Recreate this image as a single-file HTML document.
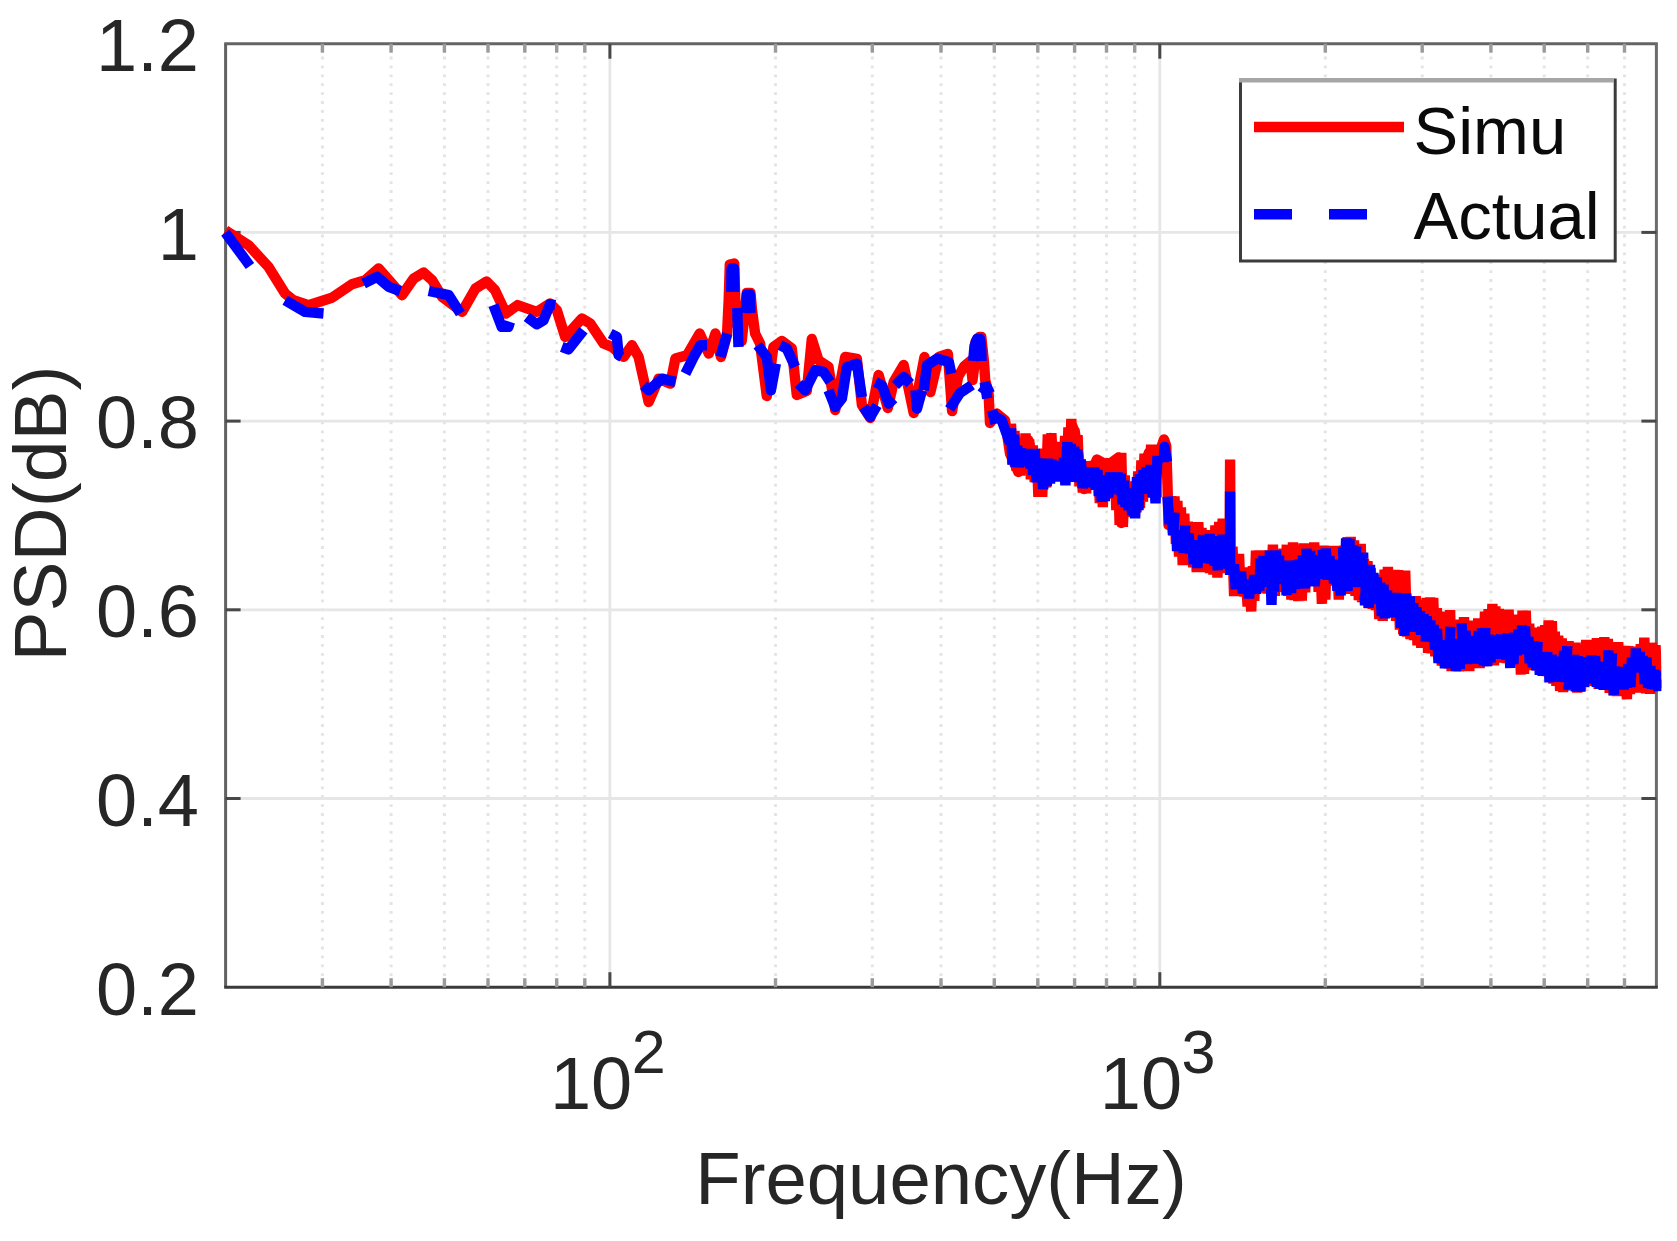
<!DOCTYPE html>
<html lang="en"><head><meta charset="utf-8"><title>PSD plot</title>
<style>html,body{margin:0;padding:0;background:#fff}svg{display:block;filter:blur(0.6px)}text{font-family:"Liberation Sans",Arial,Helvetica,sans-serif;fill:#262626}</style></head><body>
<svg width="1677" height="1241" viewBox="0 0 1677 1241">
<rect x="0" y="0" width="1677" height="1241" fill="#ffffff"/>
<g id="grid" fill="none">
<line x1="322.4" y1="47.7" x2="322.4" y2="987.2" stroke="#e4e4e4" stroke-width="3" stroke-dasharray="2.8 6.1"/>
<line x1="391.1" y1="47.7" x2="391.1" y2="987.2" stroke="#e4e4e4" stroke-width="3" stroke-dasharray="2.8 6.1"/>
<line x1="444.4" y1="47.7" x2="444.4" y2="987.2" stroke="#e4e4e4" stroke-width="3" stroke-dasharray="2.8 6.1"/>
<line x1="488.0" y1="47.7" x2="488.0" y2="987.2" stroke="#e4e4e4" stroke-width="3" stroke-dasharray="2.8 6.1"/>
<line x1="524.8" y1="47.7" x2="524.8" y2="987.2" stroke="#e4e4e4" stroke-width="3" stroke-dasharray="2.8 6.1"/>
<line x1="556.7" y1="47.7" x2="556.7" y2="987.2" stroke="#e4e4e4" stroke-width="3" stroke-dasharray="2.8 6.1"/>
<line x1="584.8" y1="47.7" x2="584.8" y2="987.2" stroke="#e4e4e4" stroke-width="3" stroke-dasharray="2.8 6.1"/>
<line x1="775.5" y1="47.7" x2="775.5" y2="987.2" stroke="#e4e4e4" stroke-width="3" stroke-dasharray="2.8 6.1"/>
<line x1="872.3" y1="47.7" x2="872.3" y2="987.2" stroke="#e4e4e4" stroke-width="3" stroke-dasharray="2.8 6.1"/>
<line x1="941.0" y1="47.7" x2="941.0" y2="987.2" stroke="#e4e4e4" stroke-width="3" stroke-dasharray="2.8 6.1"/>
<line x1="994.3" y1="47.7" x2="994.3" y2="987.2" stroke="#e4e4e4" stroke-width="3" stroke-dasharray="2.8 6.1"/>
<line x1="1037.8" y1="47.7" x2="1037.8" y2="987.2" stroke="#e4e4e4" stroke-width="3" stroke-dasharray="2.8 6.1"/>
<line x1="1074.6" y1="47.7" x2="1074.6" y2="987.2" stroke="#e4e4e4" stroke-width="3" stroke-dasharray="2.8 6.1"/>
<line x1="1106.5" y1="47.7" x2="1106.5" y2="987.2" stroke="#e4e4e4" stroke-width="3" stroke-dasharray="2.8 6.1"/>
<line x1="1134.7" y1="47.7" x2="1134.7" y2="987.2" stroke="#e4e4e4" stroke-width="3" stroke-dasharray="2.8 6.1"/>
<line x1="1325.3" y1="47.7" x2="1325.3" y2="987.2" stroke="#e4e4e4" stroke-width="3" stroke-dasharray="2.8 6.1"/>
<line x1="1422.2" y1="47.7" x2="1422.2" y2="987.2" stroke="#e4e4e4" stroke-width="3" stroke-dasharray="2.8 6.1"/>
<line x1="1490.9" y1="47.7" x2="1490.9" y2="987.2" stroke="#e4e4e4" stroke-width="3" stroke-dasharray="2.8 6.1"/>
<line x1="1544.2" y1="47.7" x2="1544.2" y2="987.2" stroke="#e4e4e4" stroke-width="3" stroke-dasharray="2.8 6.1"/>
<line x1="1587.7" y1="47.7" x2="1587.7" y2="987.2" stroke="#e4e4e4" stroke-width="3" stroke-dasharray="2.8 6.1"/>
<line x1="1624.5" y1="47.7" x2="1624.5" y2="987.2" stroke="#e4e4e4" stroke-width="3" stroke-dasharray="2.8 6.1"/>
<line x1="609.9" y1="43.7" x2="609.9" y2="987.2" stroke="#e6e6e6" stroke-width="2.8"/>
<line x1="1159.8" y1="43.7" x2="1159.8" y2="987.2" stroke="#e6e6e6" stroke-width="2.8"/>
<line x1="225.6" y1="798.5" x2="1656.4" y2="798.5" stroke="#e6e6e6" stroke-width="2.8"/>
<line x1="225.6" y1="609.8" x2="1656.4" y2="609.8" stroke="#e6e6e6" stroke-width="2.8"/>
<line x1="225.6" y1="421.1" x2="1656.4" y2="421.1" stroke="#e6e6e6" stroke-width="2.8"/>
<line x1="225.6" y1="232.4" x2="1656.4" y2="232.4" stroke="#e6e6e6" stroke-width="2.8"/>
</g>
<g id="axes" fill="none">
<line x1="224.2" y1="43.7" x2="1657.8" y2="43.7" stroke="#646464" stroke-width="3"/>
<line x1="1656.4" y1="43.7" x2="1656.4" y2="987.2" stroke="#6c6c6c" stroke-width="3"/>
<line x1="225.6" y1="43.7" x2="225.6" y2="987.2" stroke="#626262" stroke-width="3"/>
<line x1="224.2" y1="987.2" x2="1657.8" y2="987.2" stroke="#3a3a3a" stroke-width="3"/>
<line x1="322.4" y1="987.2" x2="322.4" y2="978.2" stroke="#9a9a9a" stroke-width="3.4"/>
<line x1="322.4" y1="43.7" x2="322.4" y2="52.7" stroke="#9a9a9a" stroke-width="3.4"/>
<line x1="391.1" y1="987.2" x2="391.1" y2="978.2" stroke="#9a9a9a" stroke-width="3.4"/>
<line x1="391.1" y1="43.7" x2="391.1" y2="52.7" stroke="#9a9a9a" stroke-width="3.4"/>
<line x1="444.4" y1="987.2" x2="444.4" y2="978.2" stroke="#9a9a9a" stroke-width="3.4"/>
<line x1="444.4" y1="43.7" x2="444.4" y2="52.7" stroke="#9a9a9a" stroke-width="3.4"/>
<line x1="488.0" y1="987.2" x2="488.0" y2="978.2" stroke="#9a9a9a" stroke-width="3.4"/>
<line x1="488.0" y1="43.7" x2="488.0" y2="52.7" stroke="#9a9a9a" stroke-width="3.4"/>
<line x1="524.8" y1="987.2" x2="524.8" y2="978.2" stroke="#9a9a9a" stroke-width="3.4"/>
<line x1="524.8" y1="43.7" x2="524.8" y2="52.7" stroke="#9a9a9a" stroke-width="3.4"/>
<line x1="556.7" y1="987.2" x2="556.7" y2="978.2" stroke="#9a9a9a" stroke-width="3.4"/>
<line x1="556.7" y1="43.7" x2="556.7" y2="52.7" stroke="#9a9a9a" stroke-width="3.4"/>
<line x1="584.8" y1="987.2" x2="584.8" y2="978.2" stroke="#9a9a9a" stroke-width="3.4"/>
<line x1="584.8" y1="43.7" x2="584.8" y2="52.7" stroke="#9a9a9a" stroke-width="3.4"/>
<line x1="775.5" y1="987.2" x2="775.5" y2="978.2" stroke="#9a9a9a" stroke-width="3.4"/>
<line x1="775.5" y1="43.7" x2="775.5" y2="52.7" stroke="#9a9a9a" stroke-width="3.4"/>
<line x1="872.3" y1="987.2" x2="872.3" y2="978.2" stroke="#9a9a9a" stroke-width="3.4"/>
<line x1="872.3" y1="43.7" x2="872.3" y2="52.7" stroke="#9a9a9a" stroke-width="3.4"/>
<line x1="941.0" y1="987.2" x2="941.0" y2="978.2" stroke="#9a9a9a" stroke-width="3.4"/>
<line x1="941.0" y1="43.7" x2="941.0" y2="52.7" stroke="#9a9a9a" stroke-width="3.4"/>
<line x1="994.3" y1="987.2" x2="994.3" y2="978.2" stroke="#9a9a9a" stroke-width="3.4"/>
<line x1="994.3" y1="43.7" x2="994.3" y2="52.7" stroke="#9a9a9a" stroke-width="3.4"/>
<line x1="1037.8" y1="987.2" x2="1037.8" y2="978.2" stroke="#9a9a9a" stroke-width="3.4"/>
<line x1="1037.8" y1="43.7" x2="1037.8" y2="52.7" stroke="#9a9a9a" stroke-width="3.4"/>
<line x1="1074.6" y1="987.2" x2="1074.6" y2="978.2" stroke="#9a9a9a" stroke-width="3.4"/>
<line x1="1074.6" y1="43.7" x2="1074.6" y2="52.7" stroke="#9a9a9a" stroke-width="3.4"/>
<line x1="1106.5" y1="987.2" x2="1106.5" y2="978.2" stroke="#9a9a9a" stroke-width="3.4"/>
<line x1="1106.5" y1="43.7" x2="1106.5" y2="52.7" stroke="#9a9a9a" stroke-width="3.4"/>
<line x1="1134.7" y1="987.2" x2="1134.7" y2="978.2" stroke="#9a9a9a" stroke-width="3.4"/>
<line x1="1134.7" y1="43.7" x2="1134.7" y2="52.7" stroke="#9a9a9a" stroke-width="3.4"/>
<line x1="1325.3" y1="987.2" x2="1325.3" y2="978.2" stroke="#9a9a9a" stroke-width="3.4"/>
<line x1="1325.3" y1="43.7" x2="1325.3" y2="52.7" stroke="#9a9a9a" stroke-width="3.4"/>
<line x1="1422.2" y1="987.2" x2="1422.2" y2="978.2" stroke="#9a9a9a" stroke-width="3.4"/>
<line x1="1422.2" y1="43.7" x2="1422.2" y2="52.7" stroke="#9a9a9a" stroke-width="3.4"/>
<line x1="1490.9" y1="987.2" x2="1490.9" y2="978.2" stroke="#9a9a9a" stroke-width="3.4"/>
<line x1="1490.9" y1="43.7" x2="1490.9" y2="52.7" stroke="#9a9a9a" stroke-width="3.4"/>
<line x1="1544.2" y1="987.2" x2="1544.2" y2="978.2" stroke="#9a9a9a" stroke-width="3.4"/>
<line x1="1544.2" y1="43.7" x2="1544.2" y2="52.7" stroke="#9a9a9a" stroke-width="3.4"/>
<line x1="1587.7" y1="987.2" x2="1587.7" y2="978.2" stroke="#9a9a9a" stroke-width="3.4"/>
<line x1="1587.7" y1="43.7" x2="1587.7" y2="52.7" stroke="#9a9a9a" stroke-width="3.4"/>
<line x1="1624.5" y1="987.2" x2="1624.5" y2="978.2" stroke="#9a9a9a" stroke-width="3.4"/>
<line x1="1624.5" y1="43.7" x2="1624.5" y2="52.7" stroke="#9a9a9a" stroke-width="3.4"/>
<line x1="609.9" y1="987.2" x2="609.9" y2="972.2" stroke="#484848" stroke-width="3"/>
<line x1="609.9" y1="43.7" x2="609.9" y2="58.7" stroke="#484848" stroke-width="3"/>
<line x1="1159.8" y1="987.2" x2="1159.8" y2="972.2" stroke="#484848" stroke-width="3"/>
<line x1="1159.8" y1="43.7" x2="1159.8" y2="58.7" stroke="#484848" stroke-width="3"/>
<line x1="225.6" y1="798.5" x2="240.6" y2="798.5" stroke="#484848" stroke-width="3"/>
<line x1="1656.4" y1="798.5" x2="1641.4" y2="798.5" stroke="#484848" stroke-width="3"/>
<line x1="225.6" y1="609.8" x2="240.6" y2="609.8" stroke="#484848" stroke-width="3"/>
<line x1="1656.4" y1="609.8" x2="1641.4" y2="609.8" stroke="#484848" stroke-width="3"/>
<line x1="225.6" y1="421.1" x2="240.6" y2="421.1" stroke="#484848" stroke-width="3"/>
<line x1="1656.4" y1="421.1" x2="1641.4" y2="421.1" stroke="#484848" stroke-width="3"/>
<line x1="225.6" y1="232.4" x2="240.6" y2="232.4" stroke="#484848" stroke-width="3"/>
<line x1="1656.4" y1="232.4" x2="1641.4" y2="232.4" stroke="#484848" stroke-width="3"/>
</g>
<clipPath id="clip"><rect x="219.6" y="43.7" width="1441.8" height="943.5"/></clipPath>
<g id="curves" fill="none" stroke-linejoin="round" clip-path="url(#clip)">
<polyline stroke="#ff0000" stroke-width="10.4" stroke-linecap="butt" points="225.4,230.5 248.4,245.1 268.4,266.8 285.1,293.5 293.5,300.2 308.5,305.2 331.9,297.7 351.9,284.3 365.3,280.1 378.6,268.5 390.3,281.8 402.0,295.2 413.7,278.5 423.7,272.6 432.1,280.1 442.1,296.8 462.1,311.9 475.5,288.5 486.7,281.5 495.0,290.1 505.9,313.5 517.6,305.1 536.8,311.8 550.1,303.5 556.8,310.1 565.2,336.9 581.9,318.5 590.2,323.5 603.6,343.5 611.9,346.9 623.6,356.9 632.0,345.2 638.6,356.9 648.7,402.0 658.7,378.6 670.4,383.6 675.4,358.6 687.1,355.2 699.6,333.5 708.8,353.6 715.4,333.5 721.0,357.0 727.0,335.0 728.7,300.0 729.8,264.5 734.2,263.5 735.3,300.0 737.5,325.0 741.7,341.0 745.0,310.0 746.8,293.0 750.5,293.0 752.0,310.0 755.1,333.5 760.1,343.5 766.8,396.0 773.4,346.9 781.8,341.0 791.8,348.5 796.8,395.0 806.8,391.0 811.8,339.0 818.5,360.2 828.5,366.9 835.2,410.0 845.2,357.0 856.9,359.0 861.9,405.0 870.3,418.0 878.6,375.0 887.8,408.0 893.7,381.9 903.7,365.0 913.7,413.0 924.5,357.0 930.4,392.0 938.7,357.0 947.9,354.0 952.1,411.0 958.0,377.0 964.0,366.5 970.5,361.0 972.5,380.0 974.8,362.0 975.5,342.0 979.3,337.0 981.3,337.0 984.0,362.0 985.2,380.0 988.6,394.0 990.0,423.0 996.7,413.5 1005.0,420.2 1010.0,453.6 1018.4,472.0 1028.4,440.2 1040.1,487.0 1050.5,438.0 1057.0,458.0 1063.5,459.0 1069.8,431.0 1072.3,426.0 1074.8,432.0 1079.5,462.0 1084.4,489.0 1096.9,459.5 1104.0,463.5 1111.0,463.0 1118.6,457.5 1120.8,490.0 1121.3,523.0 1126.9,487.0 1130.3,512.0 1137.0,487.0 1149.0,452.5 1155.5,474.0 1161.8,446.0 1164.0,439.5 1166.2,446.0 1167.5,485.0 1168.5,525.0 1169.5,523.4"/>
<polyline stroke="#ff0000" stroke-width="10.4" stroke-linecap="butt" stroke-linejoin="miter" stroke-miterlimit="1.6" points="1169.5,523.4 1171.1,496.3 1173.0,534.4 1174.5,496.5 1175.9,543.8 1177.4,500.9 1179.0,556.5 1180.9,507.4 1182.7,565.0 1184.3,513.7 1185.9,557.7 1187.8,521.8 1189.7,559.1 1191.4,528.2 1193.2,567.3 1195.2,522.9 1196.7,572.1 1198.3,522.2 1199.7,572.1 1201.5,528.1 1203.3,567.2 1204.9,530.2 1206.6,571.7 1208.6,534.6 1210.0,573.1 1211.9,532.7 1213.4,574.6 1215.4,525.5 1217.4,577.5 1219.2,521.9 1220.6,571.9 1222.7,518.7 1224.5,573.1 1226.4,522.6 1229.6,562.0 1230.1,459.5 1230.6,568.0 1232.5,546.7 1234.1,596.1 1235.6,555.4 1237.1,593.1 1239.0,553.9 1240.7,592.6 1242.5,567.5 1244.3,596.4 1245.7,572.2 1247.6,606.4 1249.6,574.5 1251.2,611.4 1252.9,566.2 1254.3,600.8 1256.0,550.6 1257.7,592.6 1259.3,550.5 1261.0,590.8 1262.9,557.3 1264.3,592.1 1265.6,556.1 1267.5,593.6 1269.5,550.5 1270.9,593.4 1272.9,544.7 1274.9,595.9 1276.5,552.0 1278.1,591.1 1280.1,549.5 1281.7,588.7 1283.7,548.7 1285.1,591.8 1286.8,544.8 1288.2,595.9 1289.6,545.6 1291.4,599.6 1293.0,542.4 1294.6,600.1 1296.3,558.6 1298.3,601.1 1299.9,559.7 1301.8,600.7 1303.6,543.5 1305.2,592.4 1306.9,546.5 1308.7,585.1 1310.2,544.0 1312.2,581.1 1314.2,542.5 1315.6,583.8 1317.2,550.2 1318.6,591.7 1320.1,552.6 1321.9,603.9 1323.7,545.7 1325.3,599.5 1326.9,546.1 1328.9,585.6 1330.3,546.5 1332.1,577.7 1333.6,545.9 1335.1,584.2 1336.7,552.5 1338.8,599.6 1340.5,556.6 1342.5,591.8 1344.1,545.7 1346.1,593.7 1347.5,537.1 1349.2,589.7 1350.7,537.0 1352.1,592.0 1354.0,540.5 1355.5,595.8 1357.4,548.4 1358.8,600.2 1360.7,543.8 1362.1,602.2 1363.9,558.7 1365.9,604.9 1367.5,561.2 1369.1,608.1 1370.7,568.3 1372.7,608.8 1374.3,574.7 1375.9,610.0 1377.5,577.6 1379.3,619.0 1381.0,580.6 1382.7,620.7 1384.6,569.6 1386.2,617.1 1387.9,567.0 1389.6,615.2 1391.4,571.2 1392.8,617.1 1394.7,570.0 1396.1,620.9 1398.1,570.2 1399.9,629.7 1401.8,575.8 1403.3,634.4 1405.2,570.7 1407.0,636.5 1408.6,596.2 1410.5,638.9 1412.2,597.4 1414.0,640.0 1415.7,596.1 1417.5,645.2 1419.4,600.0 1421.3,647.8 1423.1,600.2 1425.0,647.4 1426.6,598.0 1428.1,652.8 1430.1,597.5 1431.6,653.3 1433.2,597.9 1435.3,656.3 1436.8,608.3 1438.6,657.1 1440.1,611.7 1441.8,665.6 1443.8,615.9 1445.2,664.9 1446.7,616.1 1448.6,668.3 1450.1,610.2 1451.6,671.0 1453.5,619.8 1455.2,668.9 1456.9,619.7 1458.9,671.3 1460.5,622.1 1462.5,667.5 1464.0,617.1 1466.0,664.8 1467.6,620.8 1469.3,671.1 1471.4,623.1 1472.9,661.6 1474.6,622.6 1476.5,665.4 1478.2,618.4 1479.7,668.0 1481.2,619.4 1483.0,664.9 1485.0,611.6 1486.7,665.7 1488.6,609.3 1490.5,664.3 1492.4,603.8 1494.0,665.3 1495.4,606.4 1497.1,662.7 1498.8,608.9 1500.4,658.2 1502.1,611.6 1503.5,660.6 1505.0,614.3 1506.7,663.0 1508.6,609.7 1510.2,663.4 1511.8,615.2 1513.6,657.9 1515.4,614.6 1517.1,664.5 1519.1,614.6 1520.9,674.7 1522.5,610.7 1524.0,673.9 1525.7,610.8 1527.7,664.1 1529.2,623.6 1530.8,668.4 1532.5,628.3 1534.1,669.9 1535.9,630.4 1537.4,670.3 1539.0,627.6 1540.7,674.0 1542.3,626.6 1543.7,673.6 1545.2,625.2 1547.0,676.1 1548.6,620.4 1550.4,681.9 1551.9,621.0 1553.4,683.7 1554.8,631.6 1556.4,685.9 1558.2,635.6 1560.1,690.9 1561.7,638.4 1563.1,692.1 1564.9,641.5 1566.8,687.5 1568.6,641.3 1570.2,688.5 1572.0,643.0 1573.6,688.4 1575.5,642.7 1577.3,692.5 1579.2,648.1 1580.9,691.4 1582.6,647.7 1584.4,687.0 1586.2,639.9 1588.1,685.8 1590.1,644.9 1591.6,683.3 1593.1,640.0 1594.9,684.1 1596.9,638.3 1598.6,688.8 1600.6,638.1 1602.6,686.1 1604.3,637.2 1605.9,687.0 1607.9,639.0 1609.7,692.8 1611.6,643.0 1613.6,695.5 1615.3,644.6 1616.8,696.1 1618.2,642.2 1619.7,692.8 1621.7,645.8 1623.3,693.8 1625.1,646.0 1626.9,699.2 1628.3,646.1 1630.0,694.0 1631.6,647.6 1633.1,690.1 1634.6,650.1 1636.2,689.4 1637.6,646.6 1639.0,692.5 1640.8,644.2 1642.4,692.4 1644.3,637.7 1646.1,693.3 1648.2,645.0 1650.1,693.8 1651.8,642.8 1653.7,690.1 1655.5,645.3 1657.4,688.2"/>
<polyline stroke="#ff0000" stroke-width="10.4" stroke-linecap="butt" stroke-linejoin="miter" stroke-miterlimit="1.6" points="1011.0,423.6 1012.5,464.2 1014.5,430.9 1016.4,470.6 1018.2,439.1 1020.1,475.5 1021.9,439.4 1023.6,471.9 1025.5,433.5 1027.5,469.4 1029.2,439.5 1030.9,479.2 1032.8,445.4 1034.7,482.0 1036.6,451.1 1038.4,496.7 1040.3,450.4 1042.2,496.9 1044.1,448.8 1046.1,487.4 1047.8,434.3 1049.7,476.2 1051.4,433.3 1053.3,476.8 1054.7,441.9 1056.5,480.7 1058.1,458.2 1060.0,480.1 1061.9,456.7 1063.3,479.4 1065.1,436.0 1067.0,478.9 1068.4,427.4 1069.9,473.6 1071.3,418.8 1072.8,472.6 1074.2,428.5 1075.8,476.7 1077.6,435.2 1079.5,486.2 1081.2,463.0 1082.8,492.5 1084.7,468.8 1086.1,493.3 1087.6,468.6 1089.1,485.5 1091.2,461.5 1092.8,481.7 1094.6,461.1 1096.1,488.8 1097.8,462.5 1099.8,503.1 1101.4,461.2 1102.8,507.0 1104.5,461.0 1106.0,498.6 1107.9,460.4 1109.6,493.4 1111.2,460.2 1112.8,490.2 1114.8,460.0 1116.3,510.1 1118.0,458.5 1119.6,524.8 1121.3,452.9 1122.9,526.8 1124.7,475.5 1126.3,510.5 1128.2,483.3 1129.9,514.0 1131.9,487.2 1133.5,513.3 1134.9,481.5 1136.5,512.4 1138.2,471.4 1139.9,508.0 1141.4,460.4 1142.9,501.9 1144.5,453.7 1146.2,496.5 1147.8,453.9 1149.6,492.0 1151.1,444.7 1153.1,497.8 1154.9,444.7 1156.7,497.5"/>
<polyline stroke="#0000ff" stroke-width="10.4" stroke-linecap="butt" stroke-linejoin="miter" stroke-miterlimit="1.6" points="1011.0,428.2 1012.6,464.5 1014.1,434.8 1015.6,466.9 1017.2,446.0 1018.9,467.1 1020.9,448.7 1022.9,462.5 1024.7,449.5 1026.7,465.9 1028.5,450.0 1030.3,468.3 1031.8,453.8 1033.2,474.8 1034.6,449.0 1036.6,482.2 1038.2,458.7 1039.7,481.5 1041.6,458.9 1043.1,489.0 1045.1,461.4 1046.8,485.9 1048.1,458.8 1050.0,483.4 1051.4,460.0 1053.4,480.7 1055.0,461.2 1056.4,480.7 1058.1,463.1 1059.5,481.3 1060.9,464.1 1062.3,479.8 1064.0,457.8 1065.4,485.3 1067.4,442.1 1069.1,481.7 1070.8,444.0 1072.4,477.8 1074.1,446.9 1075.9,474.8 1077.4,449.4 1079.1,481.9 1080.8,459.7 1082.6,488.0 1084.6,473.2 1086.3,486.8 1087.8,470.7 1089.4,484.9 1091.3,467.8 1092.8,483.6 1094.2,467.6 1095.7,489.7 1097.4,470.1 1098.8,496.0 1100.2,475.5 1101.8,501.7 1103.2,477.1 1104.8,500.8 1106.5,475.7 1108.3,497.3 1110.1,472.7 1112.0,487.1 1114.0,473.6 1115.8,488.7 1117.7,472.7 1119.2,494.1 1120.6,473.9 1122.5,504.3 1123.9,480.9 1125.6,506.9 1127.0,489.2 1128.6,510.2 1130.6,490.4 1132.1,515.1 1133.7,488.5 1135.1,518.2 1137.0,477.3 1138.5,510.0 1139.9,474.3 1141.6,493.7 1143.5,470.3 1145.1,490.5 1146.7,467.6 1148.4,491.2 1150.4,465.1 1152.4,496.7 1153.8,465.6 1155.5,503.3 1157.5,455.9"/>
<polyline stroke="#0000ff" stroke-width="10.4" stroke-linecap="butt" points="225.4,232.6 250.0,266.0"/>
<polyline stroke="#0000ff" stroke-width="10.4" stroke-linecap="butt" points="285.1,300.2 305.2,311.9 323.5,313.5"/>
<polyline stroke="#0000ff" stroke-width="10.4" stroke-linecap="butt" points="363.6,283.5 377.0,276.8 388.7,286.8 400.3,291.0"/>
<polyline stroke="#0000ff" stroke-width="10.4" stroke-linecap="butt" points="428.7,291.0 448.8,295.2 460.4,313.5"/>
<polyline stroke="#0000ff" stroke-width="10.4" stroke-linecap="butt" points="493.4,305.1 501.7,326.8 508.4,326.8 510.0,321.8"/>
<polyline stroke="#0000ff" stroke-width="10.4" stroke-linecap="butt" points="526.8,316.8 536.8,324.3 543.5,320.2 550.1,304.3 555.2,305.1"/>
<polyline stroke="#0000ff" stroke-width="10.4" stroke-linecap="butt" points="561.8,346.9 568.5,349.4 583.5,330.2"/>
<polyline stroke="#0000ff" stroke-width="10.4" stroke-linecap="butt" points="610.3,333.5 616.9,336.9 618.6,355.2 621.9,356.9"/>
<polyline stroke="#0000ff" stroke-width="10.4" stroke-linecap="butt" points="643.7,385.3 648.7,390.3 662.0,378.6 675.4,381.9"/>
<polyline stroke="#0000ff" stroke-width="10.4" stroke-linecap="butt" points="685.4,373.6 693.7,356.9 700.4,345.2 707.1,345.2"/>
<polyline stroke="#0000ff" stroke-width="10.4" stroke-linecap="butt" points="720.5,356.9 727.1,333.5"/>
<polyline stroke="#0000ff" stroke-width="10.4" stroke-linecap="butt" points="731.2,292.0 731.6,268.5 734.0,268.5 734.4,292.0"/>
<polyline stroke="#0000ff" stroke-width="10.4" stroke-linecap="butt" points="737.2,308.0 738.5,347.0"/>
<polyline stroke="#0000ff" stroke-width="10.4" stroke-linecap="butt" points="746.2,313.0 746.8,294.5 750.0,294.5 750.5,313.0"/>
<polyline stroke="#0000ff" stroke-width="10.4" stroke-linecap="butt" points="757.6,345.2 766.8,356.9 770.9,390.3 775.9,363.6"/>
<polyline stroke="#0000ff" stroke-width="10.4" stroke-linecap="butt" points="780.1,345.2 786.8,348.5 795.1,366.9"/>
<polyline stroke="#0000ff" stroke-width="10.4" stroke-linecap="butt" points="798.5,383.6 805.2,390.3 815.2,370.2 823.5,371.9 830.2,381.9"/>
<polyline stroke="#0000ff" stroke-width="10.4" stroke-linecap="butt" points="828.5,390.3 835.2,407.0 841.9,398.6 846.9,366.9 856.9,363.6 861.9,397.0"/>
<polyline stroke="#0000ff" stroke-width="10.4" stroke-linecap="butt" points="863.6,407.0 870.3,417.0 877.0,405.3"/>
<polyline stroke="#0000ff" stroke-width="10.4" stroke-linecap="butt" points="875.3,381.9 882.0,385.3 888.6,403.6 893.7,398.6"/>
<polyline stroke="#0000ff" stroke-width="10.4" stroke-linecap="butt" points="895.3,385.3 903.7,376.9 910.3,383.6"/>
<polyline stroke="#0000ff" stroke-width="10.4" stroke-linecap="butt" points="915.4,390.3 917.0,408.6 922.0,390.3"/>
<polyline stroke="#0000ff" stroke-width="10.4" stroke-linecap="butt" points="923.7,390.3 927.0,365.2 937.1,358.6 948.8,361.9 951.3,373.6"/>
<polyline stroke="#0000ff" stroke-width="10.4" stroke-linecap="butt" points="949.5,409.0 960.0,393.0 972.0,385.0"/>
<polyline stroke="#0000ff" stroke-width="10.4" stroke-linecap="butt" points="973.2,361.0 974.5,346.0 977.0,339.0 980.0,339.0 981.2,348.0 981.5,361.0"/>
<polyline stroke="#0000ff" stroke-width="10.4" stroke-linecap="butt" points="984.7,381.9 987.2,398.6"/>
<polyline stroke="#0000ff" stroke-width="10.4" stroke-linecap="butt" points="992.2,410.3 995.5,423.7"/>
<polyline stroke="#0000ff" stroke-width="10.4" stroke-linecap="butt" points="981.7,393.5 986.7,386.8 990.0,393.5"/>
<polyline stroke="#0000ff" stroke-width="10.4" stroke-linecap="butt" points="993.4,415.2 1001.7,420.2 1010.1,443.6"/>
<polyline stroke="#0000ff" stroke-width="10.4" stroke-linecap="butt" points="1163.7,461.9 1164.5,446.9 1167.0,461.9"/>
<polyline stroke="#0000ff" stroke-width="10.4" stroke-linecap="butt" points="1230.1,491.5 1230.1,575.0"/>
<polyline stroke="#0000ff" stroke-width="10.4" stroke-linecap="butt" stroke-linejoin="miter" stroke-miterlimit="1.6" stroke-dasharray="38 37" stroke-dashoffset="0" points="1167.5,496.5 1169.5,524.1 1171.2,498.5 1173.1,535.3 1175.1,504.8 1177.1,551.1 1179.1,513.8 1180.7,551.2 1182.3,517.8 1183.8,553.0 1185.3,525.4 1187.3,556.6 1188.7,533.3 1190.2,561.3 1192.1,536.1 1193.7,564.1 1195.4,532.5 1197.4,567.9 1199.3,536.1 1201.0,563.0 1202.9,535.2 1204.4,567.2 1206.0,537.3 1207.8,570.0 1209.7,534.1 1211.5,574.3 1213.2,537.9 1214.8,571.8 1216.2,536.8 1217.9,574.5 1219.7,536.2 1221.3,572.8 1222.7,534.7 1224.6,572.4 1226.5,535.3 1232.5,584.7 1234.0,564.4 1235.8,589.1 1237.2,567.3 1239.0,591.0 1241.0,571.8 1242.9,593.2 1244.4,577.1 1245.9,595.6 1247.5,580.0 1249.0,598.2 1250.6,580.4 1252.2,597.5 1254.2,575.3 1256.1,593.6 1257.6,572.6 1259.2,593.2 1260.6,558.6 1262.1,592.3 1263.5,555.9 1265.0,593.4 1266.4,557.3 1268.2,596.8 1269.9,550.6 1271.5,604.8 1273.0,549.8 1274.5,596.1 1276.0,550.4 1277.4,597.3 1279.0,555.7 1280.4,593.1 1282.1,564.0 1283.8,594.3 1285.2,562.5 1287.0,604.7 1288.7,560.8 1290.7,606.2 1292.3,561.0 1294.1,596.4 1295.9,560.6 1297.7,592.4 1299.6,559.6 1301.5,587.2 1302.9,555.4 1304.9,588.4 1306.4,548.7 1308.2,588.7 1310.1,550.9 1311.6,583.6 1313.0,557.8 1314.7,586.1 1316.5,561.6 1318.0,586.5 1319.7,555.4 1321.4,584.7 1322.8,550.3 1324.2,584.9 1325.8,548.6 1327.7,579.8 1329.1,548.8 1330.6,578.7 1332.0,548.0 1334.0,583.5 1335.4,550.1 1337.4,590.8 1338.8,555.9 1340.7,595.4 1342.7,540.0 1344.6,595.3 1346.1,538.4 1347.6,591.2 1349.2,531.7 1351.2,594.7 1352.9,545.5 1354.4,586.1 1356.3,546.6 1358.0,586.9 1359.4,555.5 1361.2,591.6 1363.1,552.6 1365.0,605.4 1367.0,556.9 1368.6,607.9 1370.0,564.9 1371.6,609.9 1373.4,572.9 1374.9,613.6 1376.8,577.5 1378.4,614.2 1380.1,582.8 1381.8,617.1 1383.4,582.9 1384.9,618.2 1386.7,583.7 1388.2,615.5 1389.7,583.5 1391.4,617.1 1392.9,593.0 1394.5,620.0 1396.2,593.1 1397.7,622.7 1399.3,593.6 1401.1,627.7 1403.1,593.7 1404.5,636.6 1406.3,593.5 1408.2,640.3 1409.8,596.3 1411.1,640.2 1413.2,603.3 1414.8,639.7 1416.5,607.3 1418.1,642.6 1420.0,611.2 1421.8,652.2 1423.5,614.2 1425.0,656.3 1426.8,616.3 1428.4,653.7 1430.3,620.4 1431.7,656.3 1433.7,625.1 1435.6,659.6 1437.0,629.1 1438.5,662.9 1440.3,633.4 1441.9,663.1 1443.5,634.3 1444.9,668.3 1446.8,634.0 1448.7,664.8 1450.5,624.6 1452.5,668.0 1454.2,631.4 1456.0,671.0 1457.9,622.8 1459.8,668.7 1461.6,623.0 1463.5,664.8 1465.5,630.8 1467.0,664.0 1468.5,629.3 1470.1,661.1 1471.7,630.3 1473.6,662.0 1475.4,629.0 1477.0,663.4 1478.8,629.2 1480.3,664.2 1482.0,628.4 1483.7,666.8 1485.5,625.7 1487.2,666.4 1488.8,623.9 1490.5,662.4 1492.0,622.2 1493.4,658.9 1495.0,619.5 1496.5,657.0 1498.2,618.9 1499.7,656.0 1501.6,620.1 1502.9,658.8 1504.9,623.8 1506.5,659.6 1508.3,626.7 1510.3,667.9 1511.8,631.2 1513.4,664.0 1514.8,632.8 1516.6,663.1 1518.5,629.6 1520.2,662.0 1522.1,625.4 1523.6,658.7 1525.0,626.4 1526.4,658.1 1528.0,631.0 1529.7,663.3 1531.2,635.3 1532.8,667.3 1534.8,632.6 1536.3,670.4 1538.1,630.9 1539.8,674.7 1541.3,638.4 1542.7,675.7 1544.7,639.4 1546.3,675.7 1547.9,638.6 1549.5,682.4 1551.2,641.0 1552.6,679.6 1554.2,643.1 1556.2,681.7 1557.8,646.8 1559.2,679.9 1560.6,649.8 1562.3,680.2 1564.1,650.7 1565.6,687.3 1567.3,646.3 1568.7,689.6 1570.7,653.7 1572.4,690.2 1574.2,655.0 1575.9,692.3 1577.6,656.3 1579.6,693.6 1581.6,659.0 1583.5,694.1 1585.1,657.2 1586.8,692.1 1588.4,658.9 1590.0,688.3 1591.4,655.5 1593.4,686.8 1595.0,654.6 1596.8,686.7 1598.6,655.7 1600.3,688.8 1601.9,656.7 1603.7,689.6 1605.5,654.3 1607.0,686.0 1608.7,648.6 1610.2,687.4 1612.2,650.9 1613.9,694.9 1615.5,649.5 1617.2,688.5 1619.2,650.0 1620.6,688.1 1622.1,653.7 1623.7,689.4 1625.4,651.6 1627.1,687.7 1628.9,655.5 1630.5,687.1 1632.0,657.4 1634.0,685.9 1635.9,648.4 1637.8,685.1 1639.8,652.0 1641.2,687.2 1642.8,656.2 1644.9,685.9 1646.3,654.1 1648.1,687.7 1649.8,654.6 1651.6,688.8 1653.5,653.3 1655.1,689.2 1656.7,656.7 1658.5,691.2"/>
</g>
<g id="ylabels" font-size="74" text-anchor="end">
<text x="198.9" y="71.0">1.2</text>
<text x="198.9" y="259.7">1</text>
<text x="198.9" y="448.4">0.8</text>
<text x="198.9" y="637.1">0.6</text>
<text x="198.9" y="825.8">0.4</text>
<text x="198.9" y="1014.5">0.2</text>
</g>
<g id="xlabels" font-size="74">
<text x="549.9" y="1108.5">10<tspan font-size="61" dy="-36" dx="-0.5">2</tspan></text>
<text x="1099.8" y="1108.5">10<tspan font-size="61" dy="-36" dx="-0.5">3</tspan></text>
</g>
<text x="941.0" y="1204.3" font-size="74.3" text-anchor="middle">Frequency(Hz)</text>
<text transform="translate(66,513.5) rotate(-90)" font-size="75" text-anchor="middle">PSD(dB)</text>
<g id="legend">
<rect x="1240.5" y="80" width="375" height="181" fill="#ffffff" stroke="none"/>
<path d="M1240.5 78.5 V261 H1615.2 V78.5" fill="none" stroke="#3c3c3c" stroke-width="3" stroke-linejoin="miter"/>
<line x1="1239" y1="80.2" x2="1614" y2="80.2" stroke="#a6a6a6" stroke-width="4.6"/>
<line x1="1254" y1="127" x2="1404" y2="127" stroke="#ff0000" stroke-width="10.4"/>
<line x1="1254" y1="214.3" x2="1404" y2="214.3" stroke="#0000ff" stroke-width="10.4" stroke-dasharray="38 37"/>
<text x="1413.5" y="153.5" font-size="67" style="fill:#0a0a0a">Simu</text>
<text x="1413.5" y="239" font-size="67" style="fill:#0a0a0a">Actual</text>
</g>
</svg></body></html>
